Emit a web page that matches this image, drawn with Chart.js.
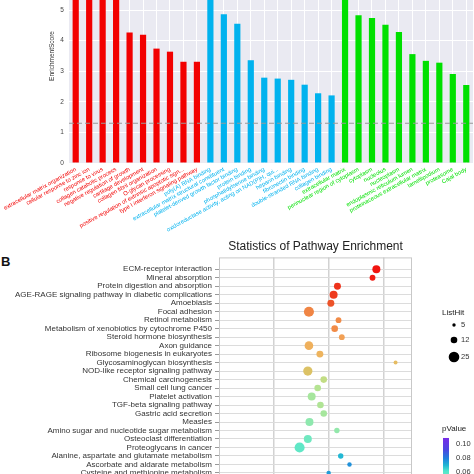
<!DOCTYPE html>
<html>
<head>
<meta charset="utf-8">
<script src="https://cdn.jsdelivr.net/npm/chart.js@4.4.0/dist/chart.umd.min.js"></script>
<style>
  html, body { margin: 0; padding: 0; background: #fff; width: 474px; height: 474px; overflow: hidden; }
  #goChart { position: absolute; left: 0; top: -60px; }
  #keggChart { position: absolute; left: 0; top: 236px; }
  #panelB { position: absolute; left: 1px; top: 254px; font: bold 13px "Liberation Sans", Arial, sans-serif; color: #111; }
</style>
</head>
<body>
<canvas id="goChart" width="474" height="300"></canvas>
<div id="panelB">B</div>
<canvas id="keggChart" width="474" height="262"></canvas>
<script>
// GO enrichment (panel A)
var bpTerms = ["extracellular matrix organization", "cellular response to zinc ion", "response to virus",
    "collagen catabolic process", "negative regulation of growth", "cartilage development",
    "collagen fibril organization", "O-glycan processing", "positive regulation of extrinsic apoptotic sign...",
    "type I interferon signaling pathway"];
var bpScores = [6.8, 6.2, 5.8, 5.4, 4.27, 4.19, 3.74, 3.64, 3.31, 3.31];

var mfTerms = ["poly(A) RNA binding", "extracellular matrix structural constituent", "platelet-derived growth factor binding",
    "protein binding", "phosphatidylserine binding", "oxidoreductase activity, acting on NAD(P)H, qui...",
    "heparin binding", "fibronectin binding", "double-stranded RNA binding", "collagen binding"];
var mfScores = [5.6, 4.86, 4.55, 3.36, 2.79, 2.76, 2.72, 2.56, 2.28, 2.21];

var ccTerms = ["extracellular matrix", "perinuclear region of cytoplasm", "cytoplasm", "nucleolus", "nucleoplasm",
    "endoplasmic reticulum lumen", "proteinaceous extracellular matrix", "lamellipodium", "proteasome", "Cajal body"];
var ccScores = [5.5, 4.83, 4.74, 4.52, 4.28, 3.56, 3.34, 3.28, 2.91, 2.55];

var cutoff = 1.3;   // -log10(0.05)
var yTicks = [0, 1, 2, 3, 4, 5, 6, 7];

// KEGG dot plot (panel B)
var pathways = ["ECM-receptor interaction", "Mineral absorption", "Protein digestion and absorption",
    "AGE-RAGE signaling pathway in diabetic complications", "Amoebiasis", "Focal adhesion", "Retinol metabolism",
    "Metabolism of xenobiotics by cytochrome P450", "Steroid hormone biosynthesis", "Axon guidance",
    "Ribosome biogenesis in eukaryotes", "Glycosaminoglycan biosynthesis", "NOD-like receptor signaling pathway",
    "Chemical carcinogenesis", "Small cell lung cancer", "Platelet activation", "TGF-beta signaling pathway",
    "Gastric acid secretion", "Measles", "Amino sugar and nucleotide sugar metabolism", "Osteoclast differentiation",
    "Proteoglycans in cancer", "Alanine, aspartate and glutamate metabolism", "Ascorbate and aldarate metabolism",
    "Cysteine and methionine metabolism"];
var richFactor = [0.287, 0.280, 0.216, 0.209, 0.204, 0.164, 0.218, 0.211, 0.224, 0.164,
    0.184, 0.322, 0.162, 0.191, 0.180, 0.169, 0.185, 0.191, 0.165, 0.215,
    0.162, 0.147, 0.222, 0.238, 0.200];
var listHit = [16, 10, 13, 16, 13, 23, 10, 12, 10, 18,
    13, 6, 20, 12, 12, 16, 12, 12, 16, 9,
    16, 23, 9, 7, 7];
var pValue = [0.001, 0.002, 0.005, 0.006, 0.009, 0.015, 0.016, 0.016, 0.020, 0.024,
    0.025, 0.028, 0.031, 0.037, 0.040, 0.043, 0.041, 0.043, 0.048, 0.047,
    0.054, 0.058, 0.070, 0.077, 0.075];
var xTicks = [0.1, 0.2, 0.3];
var hitLegend = [5, 12, 25];
var pLegend = [0.10, 0.08, 0.06];

var FONT = "'Liberation Sans', Arial, sans-serif";
var groupColors = ['#F20000', '#00B2EE', '#00E000'];

var goLabels = bpTerms.concat(mfTerms, ccTerms);
var goScores = bpScores.concat(mfScores, ccScores);
var goGroup = bpTerms.map(function () { return 0; })
    .concat(mfTerms.map(function () { return 1; }), ccTerms.map(function () { return 2; }));

var panelBg = {
    id: 'panelBg',
    beforeDraw: function (chart) {
        var a = chart.chartArea, ctx = chart.ctx;
        ctx.save();
        ctx.fillStyle = '#EAEAF2';
        ctx.fillRect(a.left, a.top, a.right - a.left, a.bottom - a.top);
        ctx.restore();
    },
    afterDatasetsDraw: function (chart) {
        // significance line
        var a = chart.chartArea, ctx = chart.ctx;
        var y = chart.scales.y.getPixelForValue(cutoff);
        ctx.save();
        ctx.strokeStyle = '#999999';
        ctx.lineWidth = 1.2;
        ctx.setLineDash([5, 3]);
        ctx.beginPath();
        ctx.moveTo(a.left, y);
        ctx.lineTo(a.right, y);
        ctx.stroke();
        ctx.restore();
    }
};

new Chart(document.getElementById('goChart'), {
    type: 'bar',
    data: {
        labels: goLabels,
        datasets: [{
            data: goScores,
            backgroundColor: goGroup.map(function (g) { return groupColors[g]; }),
            barPercentage: 0.46,
            categoryPercentage: 1
        }]
    },
    options: {
        responsive: false,
        animation: false,
        layout: { padding: { top: 4, right: 1, left: 46, bottom: 0 } },
        plugins: { legend: { display: false }, tooltip: { enabled: false } },
        scales: {
            x: {
                grid: { color: '#ffffff', offset: false, drawTicks: false },
                border: { display: false },
                ticks: {
                    autoSkip: false, minRotation: 29, maxRotation: 29, padding: 3,
                    font: { size: 5.8, family: FONT },
                    color: function (c) { return groupColors[goGroup[c.index]]; }
                },
                afterFit: function (axis) { axis.height = 77; }
            },
            y: {
                min: 0, max: 7,
                afterBuildTicks: function (axis) { axis.ticks = yTicks.map(function (v) { return { value: v }; }); },
                grid: { color: '#ffffff', drawTicks: false },
                border: { display: false },
                ticks: { padding: 5, color: '#444', font: { size: 6.5, family: FONT } },
                title: { display: true, text: 'EnrichmentScore', color: '#333', padding: 1, font: { size: 6.5, family: FONT } },
                afterFit: function (axis) { axis.width = 22; }
            }
        }
    },
    plugins: [panelBg]
});

// colour scale for pValue
var pStops = [0.000, 0.008, 0.014, 0.020, 0.026, 0.032, 0.038, 0.046, 0.054, 0.062, 0.070, 0.080, 0.092, 0.110];
var pCols = ['#F20D0D', '#EC4A24', '#F08040', '#F2A055', '#EDB860', '#D8C466', '#BEE28A', '#98E8A8',
    '#70E8C0', '#50E6CC', '#22B8D4', '#2080DC', '#4A4AE0', '#7A2AE8'];

function hexRgb(h) {
    return [parseInt(h.substr(1, 2), 16), parseInt(h.substr(3, 2), 16), parseInt(h.substr(5, 2), 16)];
}

function pColor(p) {
    if (p <= pStops[0]) return pCols[0];
    for (var i = 1; i < pStops.length; i++) {
        if (p <= pStops[i]) {
            var t = (p - pStops[i - 1]) / (pStops[i] - pStops[i - 1]);
            var a = hexRgb(pCols[i - 1]), b = hexRgb(pCols[i]);
            return 'rgb(' + a.map(function (v, k) { return Math.round(v + (b[k] - v) * t); }).join(',') + ')';
        }
    }
    return pCols[pCols.length - 1];
}

function hitRadius(h) {
    return 1.3 * Math.sqrt(h) - 1.2;
}

var dotLegend = {
    id: 'dotLegend',
    beforeDatasetsDraw: function (chart) {
        var a = chart.chartArea, ctx = chart.ctx;
        ctx.save();
        ctx.strokeStyle = '#c8c8c8';
        ctx.lineWidth = 1;
        ctx.strokeRect(a.left + 0.5, a.top + 0.5, a.right - a.left - 1, a.bottom - a.top - 1);
        ctx.restore();
    },
    afterDraw: function (chart) {
        var ctx = chart.ctx;
        ctx.save();
        ctx.fillStyle = '#222';
        ctx.font = '8px ' + FONT;
        ctx.textBaseline = 'middle';
        ctx.fillText('ListHit', 442, 77);
        var ly = [89, 104, 121];
        hitLegend.forEach(function (h, i) {
            ctx.fillStyle = '#000';
            ctx.beginPath();
            ctx.arc(454, ly[i], hitRadius(h), 0, Math.PI * 2);
            ctx.fill();
            ctx.fillStyle = '#333';
            ctx.font = '7.5px ' + FONT;
            ctx.fillText(String(h), 461, ly[i]);
        });

        // colour bar
        ctx.fillStyle = '#222';
        ctx.font = '8px ' + FONT;
        ctx.fillText('pValue', 442, 193);
        var pxPer = 700, y010 = 208, pTop = 0.1086;
        var yTop = y010 - (pTop - 0.10) * pxPer;
        for (var y = yTop; y < 262; y++) {
            ctx.fillStyle = pColor(0.10 - (y - y010) / pxPer);
            ctx.fillRect(443, y, 6, 1.2);
        }
        ctx.fillStyle = '#333';
        ctx.font = '7.5px ' + FONT;
        pLegend.forEach(function (p) {
            ctx.fillText(p.toFixed(2), 456, y010 + (0.10 - p) * pxPer);
        });
        ctx.restore();
    }
};

new Chart(document.getElementById('keggChart'), {
    type: 'bubble',
    data: {
        datasets: [{
            data: pathways.map(function (n, i) { return { x: richFactor[i], y: i, r: hitRadius(listHit[i]) }; }),
            backgroundColor: pValue.map(pColor),
            borderWidth: 0
        }]
    },
    options: {
        responsive: false,
        animation: false,
        layout: { padding: { top: 0, right: 62, left: 0, bottom: 0 } },
        plugins: {
            legend: { display: false },
            tooltip: { enabled: false },
            title: {
                display: true, fullSize: false, text: 'Statistics of Pathway Enrichment',
                color: '#222', padding: { top: 3, bottom: 4 },
                font: { size: 12, weight: 'normal', family: FONT }
            }
        },
        scales: {
            x: {
                type: 'linear', min: 0, max: 0.352,
                afterBuildTicks: function (axis) { axis.ticks = xTicks.map(function (v) { return { value: v }; }); },
                grid: { color: '#d2d2d2', lineWidth: 1.5, drawTicks: false },
                border: { display: false },
                ticks: { color: '#444', font: { size: 8, family: FONT } },
                afterFit: function (axis) { axis.height = 20; }
            },
            y: {
                type: 'linear', reverse: true, min: -1.4, max: 24.6,
                afterBuildTicks: function (axis) { axis.ticks = pathways.map(function (n, i) { return { value: i }; }); },
                grid: { color: '#dcdcdc', lineWidth: 1, tickLength: 4, tickColor: '#999' },
                border: { display: false },
                ticks: {
                    autoSkip: false, padding: 3, color: '#333',
                    font: { size: 8, family: FONT },
                    callback: function (v) { return pathways[v]; }
                },
                afterFit: function (axis) { axis.width = 219; }
            }
        }
    },
    plugins: [dotLegend]
});
</script>
</body>
</html>
